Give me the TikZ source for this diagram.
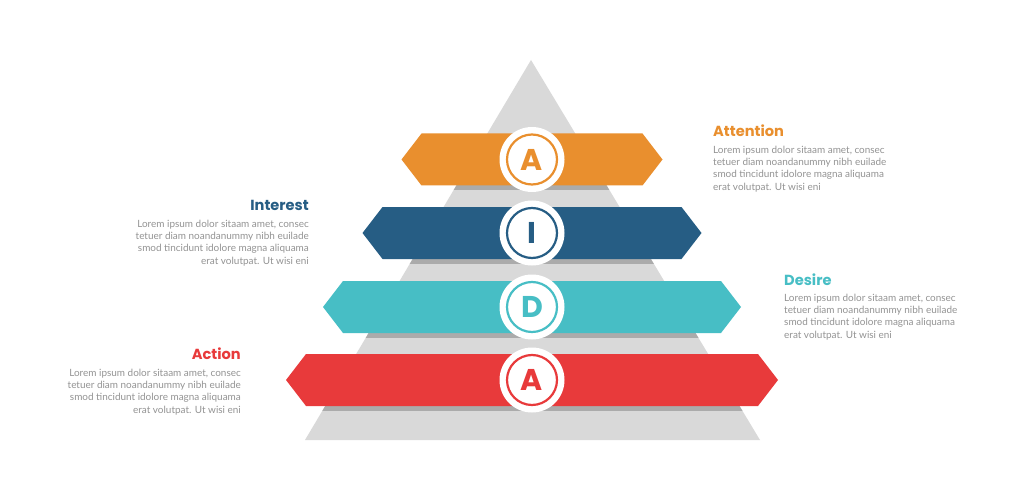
\documentclass[tikz,border=0pt]{standalone}
\usepackage{fontspec}
\setmainfont{Lato}
\newfontfamily\titlefont{Poppins}
\definecolor{cOrange}{HTML}{E98F2E}
\definecolor{cBlue}{HTML}{265D84}
\definecolor{cTeal}{HTML}{47BEC5}
\definecolor{cRed}{HTML}{E83A3B}
\definecolor{cPyr}{HTML}{D9D9D9}
\definecolor{cShadow}{HTML}{ABABAB}
\definecolor{cText}{HTML}{939393}
\tikzset{
  title/.style={inner sep=0pt, font=\titlefont\bfseries\fontsize{14.6}{17}\selectfont},
  body/.style={inner sep=0pt, text=cText, font=\fontsize{9.95}{12.4}\selectfont},
  badge/.style={circle, fill=white, minimum size=65pt, inner sep=0pt},
  ring/.style={circle, draw=#1, line width=2.2pt, minimum size=50pt, inner sep=0pt, text=#1,
    font=\titlefont\bfseries\fontsize{30}{32}\selectfont},
}
\newcommand{\bandshape}[3]{% color, cy, halfwidth
  \fill[#1] (532-#3,#2) -- (532-#3+20,#2-26) -- (532+#3-20,#2-26) -- (532+#3,#2)
    -- (532+#3-20,#2+26) -- (532-#3+20,#2+26) -- cycle;}
\begin{document}
\begin{tikzpicture}[x=1pt,y=-1pt]
\useasboundingbox (0,0) rectangle (1026,500);
\fill[white] (0,0) rectangle (1026,500);
% pyramid
\fill[cPyr] (531,60) -- (760,440) -- (305,440) -- cycle;
\begin{scope}
  \clip (531,60) -- (760,440) -- (305,440) -- cycle;
  \fill[cShadow] (0,185.5) rectangle (1026,190);
  \fill[cShadow] (0,259) rectangle (1026,263.5);
  \fill[cShadow] (0,333) rectangle (1026,337.5);
  \fill[cShadow] (0,406) rectangle (1026,410.5);
\end{scope}
% bands
\bandshape{cOrange}{159.5}{130.5}
\bandshape{cBlue}{233}{169.5}
\bandshape{cTeal}{307}{209}
\bandshape{cRed}{380}{246}
% badges
\node[badge] (b1) at (532,159.5) {};
\node[ring=cOrange] (l1) at (532,159.5) {A};
\node[badge] (b2) at (532,233) {};
\node[ring=cBlue] (l2) at (532,233) {I};
\node[badge] (b3) at (532,307) {};
\node[ring=cTeal] (l3) at (532,307) {D};
\node[badge] (b4) at (532,380) {};
\node[ring=cRed] (l4) at (532,380) {A};
% texts
\node[title, text=cOrange, anchor=west] (t1) at (713,131) {Attention};
\node[body, anchor=north west, align=left] (d1) at (713,145.5) {Lorem ipsum dolor sitaam amet, consec\\tetuer diam noandanummy nibh euilade\\smod tincidunt idolore magna aliquama\\erat volutpat. Ut wisi eni};
\node[title, text=cBlue, anchor=east] (t2) at (309,205) {Interest};
\node[body, anchor=north east, align=right] (d2) at (309,219.5) {Lorem ipsum dolor sitaam amet, consec\\tetuer diam noandanummy nibh euilade\\smod tincidunt idolore magna aliquama\\erat volutpat. Ut wisi eni};
\node[title, text=cTeal, anchor=west] (t3) at (784,280) {Desire};
\node[body, anchor=north west, align=left] (d3) at (784,293.5) {Lorem ipsum dolor sitaam amet, consec\\tetuer diam noandanummy nibh euilade\\smod tincidunt idolore magna aliquama\\erat volutpat. Ut wisi eni};
\node[title, text=cRed, anchor=east] (t4) at (241,354) {Action};
\node[body, anchor=north east, align=right] (d4) at (241,368.5) {Lorem ipsum dolor sitaam amet, consec\\tetuer diam noandanummy nibh euilade\\smod tincidunt idolore magna aliquama\\erat volutpat. Ut wisi eni};
\end{tikzpicture}
\end{document}
